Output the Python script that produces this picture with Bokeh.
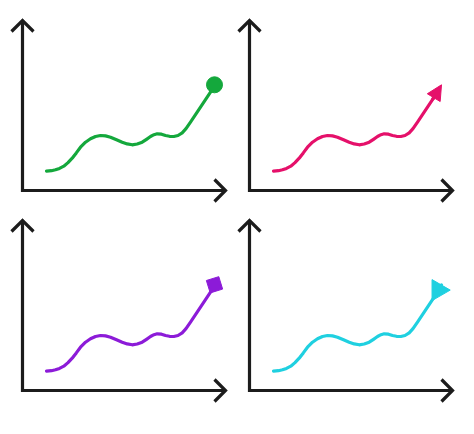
import math
from bokeh.plotting import figure
from bokeh.layouts import gridplot
from bokeh.models import Range1d, Arrow, NormalHead
from bokeh.embed import file_html
from bokeh.resources import INLINE

# Curve values (same trend in all four panels)
t_vals = [24, 29, 33, 37, 41.3, 45.5, 49.7, 53.8, 58, 63, 68, 73, 78, 83, 88,
          94, 99.7, 104.7, 109.7, 114.7, 119.7, 124, 128, 131.5, 134.7, 139,
          143, 147, 151.3, 155.5, 159.7, 163.5, 168, 173, 178, 183, 188, 192]
v_vals = [19.3, 19.8, 20.7, 22.1, 24.3, 27.9, 32.3, 37.6, 43.3, 48.3, 51.7,
          54.0, 55, 54.6, 53.3, 50.8, 48.3, 46.6, 45.7, 46.5, 48.3, 51.2, 54,
          55.8, 56.7, 56.3, 55, 54.2, 54, 55.0, 57.7, 61.8, 68.3, 75.8, 83.3,
          90.8, 98.3, 105.7]

# Axis extents
x_axis_max = 203
y_axis_max = 170

colors = ["#14a83c", "#e5106a", "#8c1bd8", "#1fd0e0"]
end_styles = ["circle", "arrow", "square", "triangle"]

AXIS_COLOR = "#1c1c1c"


def make_panel(color, style, left, top):
    W = 227 + left
    H = 200 + top
    p = figure(width=W, height=H, output_backend="svg", toolbar_location=None,
               x_range=Range1d(-14 - left, W - 14 - left),
               y_range=Range1d(-18, H - 18),
               min_border=0, x_axis_location=None, y_axis_location=None,
               outline_line_color=None, background_fill_color="white",
               border_fill_color="white")
    p.xgrid.visible = False
    p.ygrid.visible = False

    # arrow-tipped axes
    lw = 3.2
    p.line([0, 0, x_axis_max], [y_axis_max, 0, 0], line_color=AXIS_COLOR,
           line_width=lw, line_join="miter")
    a = 11
    p.line([-a, 0, a], [y_axis_max - a, y_axis_max, y_axis_max - a],
           line_color=AXIS_COLOR, line_width=lw, line_join="miter")
    p.line([x_axis_max - a, x_axis_max, x_axis_max - a], [a, 0, -a],
           line_color=AXIS_COLOR, line_width=lw, line_join="miter")

    if style == "arrow":
        p.line(t_vals[:-1], v_vals[:-1], line_color=color, line_width=3.2,
               line_cap="round", line_join="round")
        p.add_layout(Arrow(x_start=t_vals[-3], y_start=v_vals[-3],
                           x_end=t_vals[-1], y_end=v_vals[-1],
                           line_color=color, line_width=3.2,
                           end=NormalHead(size=15, fill_color=color,
                                          line_color=color, line_width=1)))
    else:
        p.line(t_vals, v_vals, line_color=color, line_width=3.2,
               line_cap="round", line_join="round")
        if style == "circle":
            p.scatter([t_vals[-1]], [v_vals[-1]], marker="circle", size=16,
                      fill_color=color, line_color=color)
        elif style == "square":
            p.scatter([t_vals[-1]], [v_vals[-1]], marker="square", size=13,
                      angle=0.3, fill_color=color, line_color=color)
        elif style == "triangle":
            p.scatter([t_vals[-1] - 3.4], [v_vals[-1] - 5.3], marker="triangle",
                      size=21, angle=-math.pi / 2, fill_color=color,
                      line_color=color)
    return p


offsets = [(8, 8), (0, 8), (8, 0), (0, 0)]
panels = [make_panel(c, s, l, t) for c, s, (l, t) in zip(colors, end_styles, offsets)]
grid = gridplot([[panels[0], panels[1]], [panels[2], panels[3]]],
                toolbar_location=None)

open("out.html", "w").write(file_html(grid, INLINE))
